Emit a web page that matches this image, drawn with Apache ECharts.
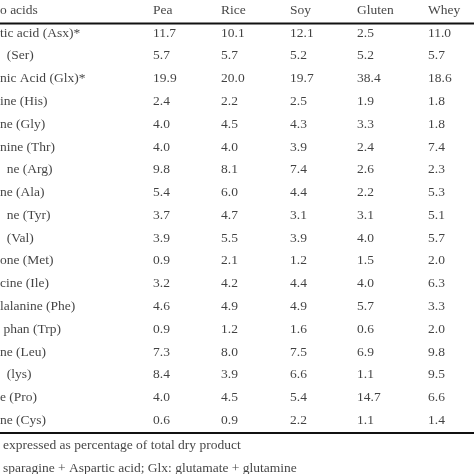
<!DOCTYPE html><html><head><meta charset="utf-8"><script src="https://cdn.jsdelivr.net/npm/echarts@6/dist/echarts.min.js"></script>
<style>html,body{margin:0;background:#fff}#c{width:474px;height:474px}</style></head><body><div id="c"></div><script>
const columns=['Pea','Rice','Soy','Gluten','Whey'];
const header='o acids';
const rowLabels=['tic acid (Asx)*','  (Ser)','nic Acid (Glx)*','ine (His)','ne (Gly)','nine (Thr)','  ne (Arg)','ne (Ala)','  ne (Tyr)','  (Val)','one (Met)','cine (Ile)','lalanine (Phe)',' phan (Trp)','ne (Leu)','  (lys)','e (Pro)','ne (Cys)'];
const pea=['11.7','5.7','19.9','2.4','4.0','4.0','9.8','5.4','3.7','3.9','0.9','3.2','4.6','0.9','7.3','8.4','4.0','0.6'];
const rice=['10.1','5.7','20.0','2.2','4.5','4.0','8.1','6.0','4.7','5.5','2.1','4.2','4.9','1.2','8.0','3.9','4.5','0.9'];
const soy=['12.1','5.2','19.7','2.5','4.3','3.9','7.4','4.4','3.1','3.9','1.2','4.4','4.9','1.6','7.5','6.6','5.4','2.2'];
const gluten=['2.5','5.2','38.4','1.9','3.3','2.4','2.6','2.2','3.1','4.0','1.5','4.0','5.7','0.6','6.9','1.1','14.7','1.1'];
const whey=['11.0','5.7','18.6','1.8','1.8','7.4','2.3','5.3','5.1','5.7','2.0','6.3','3.3','2.0','9.8','9.5','6.6','1.4'];
const footnotes=['expressed as percentage of total dry product','sparagine + Aspartic acid; Glx: glutamate + glutamine'];
const colX=[0,153,221,290,357,428];
const vals=[pea,rice,soy,gluten,whey];
const data=[];
data.push([colX[0],-1,header]);
columns.forEach((c,j)=>data.push([colX[j+1],-1,c]));
rowLabels.forEach((l,i)=>{data.push([colX[0],i,l]);vals.forEach((v,j)=>data.push([colX[j+1],i,v[i]]));});
footnotes.forEach((f,k)=>data.push([3,18.1+k,f]));
const ch=echarts.init(document.getElementById('c'));
const font={fontFamily:'Liberation Serif',fontSize:13.5,color:'#111'};
ch.setOption({animation:false,
grid:{left:0,right:0,top:0,bottom:0},
xAxis:{type:'value',min:0,max:474,show:false},
yAxis:{type:'value',min:-1.45,max:19.35,inverse:true,show:false},
series:[{type:'scatter',symbolSize:0,data:data,
label:{show:true,position:'inside',align:'left',verticalAlign:'middle',formatter:p=>p.value[2],...font}},
{type:'line',symbol:'none',lineStyle:{color:'#111',width:2},data:[[0,-0.42],[474,-0.42]]},
{type:'line',symbol:'none',lineStyle:{color:'#111',width:2},data:[[0,17.55],[474,17.55]]}]});
</script></body></html>
